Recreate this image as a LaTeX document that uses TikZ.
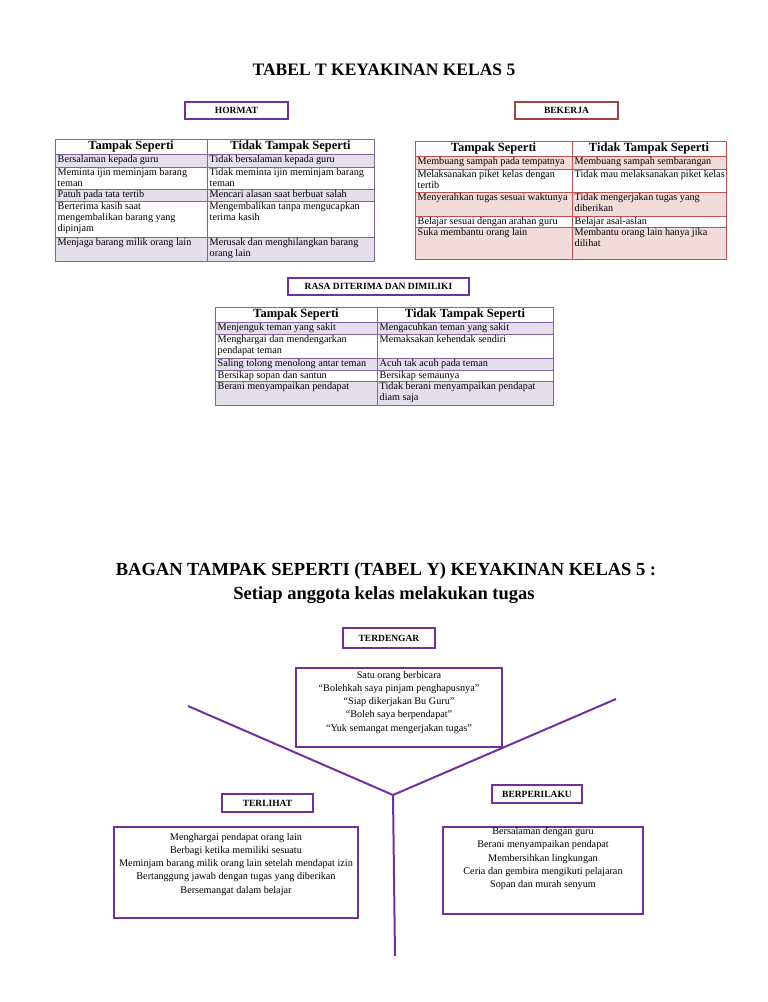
\documentclass[tikz,border=0pt]{standalone}
\usepackage{fontspec}
\setmainfont{Liberation Serif}
\hyphenpenalty=10000
\exhyphenpenalty=10000
\definecolor{pb}{HTML}{8064A2}
\definecolor{pf}{HTML}{E5DFEC}
\definecolor{rb}{HTML}{C0504D}
\definecolor{rf}{HTML}{F2DBDB}
\definecolor{vl}{HTML}{7030A0}
\newcommand\xa{0}\newcommand\xb{0}\newcommand\xc{0}\newcommand\bcol{pb}
\newcommand\trow[5]{%
  \fill[#3] (\xa,#1) rectangle (\xc,#2);
  \draw[\bcol,line width=0.8pt] (\xa,#1) rectangle (\xc,#2) (\xb,#1) -- (\xb,#2);
  \pgfmathsetmacro\wa{\xb-\xa-4}\pgfmathsetmacro\wb{\xc-\xb-4}
  \node[cell,text width=\wa pt] at (\xa+2,#1+0.5) {#4};
  \node[cell,text width=\wb pt] at (\xb+2,#1+0.5) {#5};}
\newcommand\thead[1]{%
  \draw[\bcol,line width=0.8pt] (\xa,#1) rectangle (\xc,#1+15) (\xb,#1) -- (\xb,#1+15);
  \node[hd] at ({(\xa+\xb)/2},#1+7.5) {Tampak Seperti};
  \node[hd] at ({(\xb+\xc)/2},#1+7.5) {Tidak Tampak Seperti};}
\begin{document}
\begin{tikzpicture}[x=1pt,y=-1pt,
  cell/.style={anchor=north west,inner sep=0.5pt,align=flush left,font=\fontsize{10.2}{11.3}\selectfont},
  hd/.style={font=\fontsize{12.5}{13}\selectfont\bfseries,inner sep=0},
  lab/.style={draw,line width=1.6pt,font=\fontsize{9.5}{10}\selectfont\bfseries,inner sep=0},
  bx/.style={align=center,anchor=north,font=\fontsize{10.2}{13.2}\selectfont,inner sep=0},
  frame/.style={draw=vl,line width=1.4pt},
  vline/.style={vl,line width=2pt}]
\useasboundingbox (0,0) rectangle (768,1002);
\node[font=\fontsize{17.5}{20}\selectfont\bfseries] (t1) at (384,70) {TABEL T KEYAKINAN KELAS 5};
% HORMAT
\node[lab,draw=vl,minimum width=103,minimum height=17] (hormat) at (236.5,110.5) {HORMAT};
\renewcommand\xa{55}\renewcommand\xb{207}\renewcommand\xc{374}\renewcommand\bcol{pb}
\thead{139}
\trow{154}{167}{pf}{Bersalaman kepada guru}{Tidak bersalaman kepada guru}
\trow{167}{189}{white}{Meminta ijin meminjam barang teman}{Tidak meminta ijin meminjam barang teman}
\trow{189}{201}{pf}{Patuh pada tata tertib}{Mencari alasan saat berbuat salah}
\trow{201}{237}{white}{Berterima kasih saat mengembalikan barang yang dipinjam}{Mengembalikan tanpa mengucapkan terima kasih}
\trow{237}{261}{pf}{Menjaga barang milik orang lain}{Merusak dan menghilangkan barang orang lain}
% BEKERJA
\node[lab,draw=rb!85!black,minimum width=103,minimum height=17] (bekerja) at (566.5,110.5) {BEKERJA};
\renewcommand\xa{415}\renewcommand\xb{572}\renewcommand\xc{726}\renewcommand\bcol{rb}
\thead{141}
\trow{156}{169}{rf}{Membuang sampah pada tempatnya}{Membuang sampah sembarangan}
\trow{169}{192}{white}{Melaksanakan piket kelas dengan tertib}{Tidak mau melaksanakan piket kelas}
\trow{192}{216}{rf}{Menyerahkan tugas sesuai waktunya}{Tidak mengerjakan tugas yang diberikan}
\trow{216}{227}{white}{Belajar sesuai dengan arahan guru}{Belajar asal-aslan}
\trow{227}{259}{rf}{Suka membantu orang lain}{Membantu orang lain hanya jika dilihat}
% RASA
\node[lab,draw=vl,minimum width=181,minimum height=17] (rasa) at (378.5,286.5) {RASA DITERIMA DAN DIMILIKI};
\renewcommand\xa{215}\renewcommand\xb{377}\renewcommand\xc{553}\renewcommand\bcol{pb}
\thead{307}
\trow{322}{334}{pf}{Menjenguk teman yang sakit}{Mengacuhkan teman yang sakit}
\trow{334}{358}{white}{Menghargai dan mendengarkan pendapat teman}{Memaksakan kehendak sendiri}
\trow{358}{370}{pf}{Saling tolong menolong antar teman}{Acuh tak acuh pada teman}
\trow{370}{381}{white}{Bersikap sopan dan santun}{Bersikap semaunya}
\trow{381}{405}{pf}{Berani menyampaikan pendapat}{Tidak berani menyampaikan pendapat diam saja}
% Bagan
\node[font=\fontsize{18.5}{21}\selectfont\bfseries] (t2) at (386,571) {BAGAN TAMPAK SEPERTI (TABEL Y) KEYAKINAN KELAS 5 :};
\node[font=\fontsize{18.5}{21}\selectfont\bfseries] (t3) at (384,595) {Setiap anggota kelas melakukan tugas};
\coordinate (j) at (393,795);
\coordinate (l) at (188,706);
\coordinate (r) at (616,699);
\coordinate (b) at (395,956);
\draw[vline] (l) -- (j) -- (r);
\draw[vline] (j) -- (b);
\node[lab,draw=vl,minimum width=92,minimum height=20] (terdengar) at (389,638) {TERDENGAR};
\filldraw[frame,fill=white] (296,668) rectangle (502,747);
\node[bx] (hear) at (399,671) {Satu orang berbicara\\ “Bolehkah saya pinjam penghapusnya”\\ “Siap dikerjakan Bu Guru”\\ “Boleh saya berpendapat”\\ “Yuk semangat mengerjakan tugas”};
\node[lab,draw=vl,minimum width=91,minimum height=18] (terlihat) at (267.5,803) {TERLIHAT};
\draw[frame] (114,827) rectangle (358,918);
\node[bx] (see) at (236,833) {Menghargai pendapat orang lain\\ Berbagi ketika memiliki sesuatu\\ Meminjam barang milik orang lain setelah mendapat izin\\ Bertanggung jawab dengan tugas yang diberikan\\ Bersemangat dalam belajar};
\node[lab,draw=vl,minimum width=90,minimum height=18] (berp) at (537,794) {BERPERILAKU};
\draw[frame] (443,827) rectangle (643,914);
\node[bx] (act) at (543,827.5) {Bersalaman dengan guru\\ Berani menyampaikan pendapat\\ Membersihkan lingkungan\\ Ceria dan gembira mengikuti pelajaran\\ Sopan dan murah senyum};
\end{tikzpicture}
\end{document}
